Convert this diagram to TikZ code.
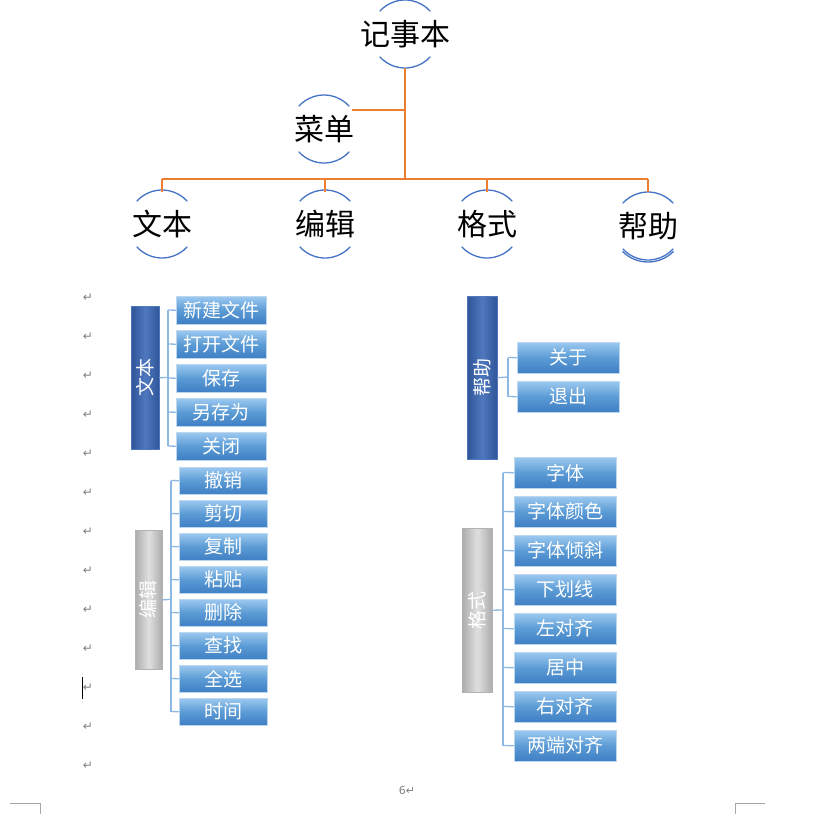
\documentclass[tikz,border=0pt]{standalone}
\usepackage{fontspec}
\setmainfont{Noto Sans CJK SC}
\newfontfamily\djfont{DejaVu Sans}
\definecolor{kidtop}{HTML}{9CC9F0}
\definecolor{kidmid}{HTML}{5B9BD5}
\definecolor{kidbot}{HTML}{3F7FC4}
\definecolor{dk}{HTML}{2F5597}
\definecolor{dkl}{HTML}{4F78BF}
\definecolor{lk}{HTML}{8DB8E2}
\definecolor{arcb}{HTML}{4472C4}
\definecolor{og}{HTML}{ED7D31}
\begin{document}
\begin{tikzpicture}[x=1pt,y=-1pt,
  arcc/.style={draw=none,font=\fontsize{30}{30}\selectfont,inner sep=0},
  org/.style={draw=og,line width=1.6pt},
  kid/.style={draw=white!60!kidmid,top color=kidtop,bottom color=kidbot,middle color=kidmid,text=white,font=\fontsize{19}{19}\selectfont,inner sep=0,anchor=north west},
  dark/.style={draw=dkl,left color=dk,right color=dk,middle color=dkl,text=white,font=\fontsize{19}{19}\selectfont,inner sep=0,anchor=north west},
  gray/.style={draw=gray!60,left color=gray!65,right color=gray!65,middle color=gray!25,text=white,font=\fontsize{19}{19}\selectfont,inner sep=0,anchor=north west},
  lnk/.style={draw=lk,line width=1.3pt},
  ret/.style={font=\djfont\fontsize{12}{12}\selectfont,text=gray}]
\useasboundingbox (0,0) rectangle (826,814);
\def\mycirc#1#2#3#4{\node[arcc] (#1) at (#2,#3) {#4};
 \draw[arcb,line width=1.3pt] (#2,#3) ++(222:34) arc (222:318:34);
 \draw[arcb,line width=1.3pt] (#2,#3) ++(138:34) arc (138:42:34);}
\mycirc{top}{405}{34}{记事本}
\mycirc{menu}{324}{129}{菜单}
\mycirc{wb}{162}{224}{文本}
\mycirc{bj}{325}{224}{编辑}
\mycirc{gs}{487}{224}{格式}
\mycirc{bz}{648}{226}{帮助}
\draw[arcb,line width=1.3pt] (648,226) ++(135:36) arc (135:45:36);
\coordinate (j1) at (405,110); \coordinate (j2) at (405,179);
\draw[org] (405,68) -- (j2); \draw[org] (352,110) -- (j1);
\draw[org] (162,179) -- (648,179);
\foreach \x in {162,325,487,648} \draw[org] (\x,179) -- (\x,192);
% left top group
\node[dark,minimum width=28,minimum height=143] (wbox) at (131,306) {\rotatebox{90}{文本}};
\foreach \t [count=\i] in {新建文件,打开文件,保存,另存为,关闭}{
 \node[kid,minimum width=90,minimum height=28] (a\i) at (176,{296+34*(\i-1)}) {\t};
 \draw[lnk] (168,{310+34*(\i-1)}) -- (a\i.west);}
\draw[lnk] (168,310) -- (168,446); \draw[lnk] (wbox.east) -- (168,377.5);
% edit group
\node[gray,minimum width=27,minimum height=139] (ebox) at (135,530) {\rotatebox{90}{编辑}};
\foreach \t [count=\i] in {撤销,剪切,复制,粘贴,删除,查找,全选,时间}{
 \node[kid,minimum width=88,minimum height=27] (b\i) at (179,{467+33*(\i-1)}) {\t};
 \draw[lnk] (171,{480.5+33*(\i-1)}) -- (b\i.west);}
\draw[lnk] (171,480.5) -- (171,711.5); \draw[lnk] (ebox.east) -- (171,599.5);
% help group
\node[dark,minimum width=30,minimum height=163] (hbox) at (467,296) {\rotatebox{90}{帮助}};
\foreach \t [count=\i] in {关于,退出}{
 \node[kid,minimum width=102,minimum height=31] (c\i) at (517,{342+39*(\i-1)}) {\t};
 \draw[lnk] (508,{357.5+39*(\i-1)}) -- (c\i.west);}
\draw[lnk] (508,357.5) -- (508,396.5); \draw[lnk] (hbox.east) -- (508,377);
% format group
\node[gray,minimum width=30,minimum height=164] (fbox) at (462,528) {\rotatebox{90}{格式}};
\foreach \t [count=\i] in {字体,字体颜色,字体倾斜,下划线,左对齐,居中,右对齐,两端对齐}{
 \node[kid,minimum width=102,minimum height=31] (d\i) at (514,{457+39*(\i-1)}) {\t};
 \draw[lnk] (503,{472.5+39*(\i-1)}) -- (d\i.west);}
\draw[lnk] (503,472.5) -- (503,745.5); \draw[lnk] (fbox.east) -- (503,610);
% returns
\foreach \i in {0,...,12} \node[ret] (r\i) at (88,{298+39*\i}) {↵};
\draw[black] (82,677) -- (82,699);
\node[font=\djfont\fontsize{11}{11}\selectfont,text=gray] (pg) at (407,790) {6↵};
\draw[gray!70] (10,803) -- (40,803) -- (40,814);
\draw[gray!70] (765,803) -- (735,803) -- (735,814);
\end{tikzpicture}
\end{document}
